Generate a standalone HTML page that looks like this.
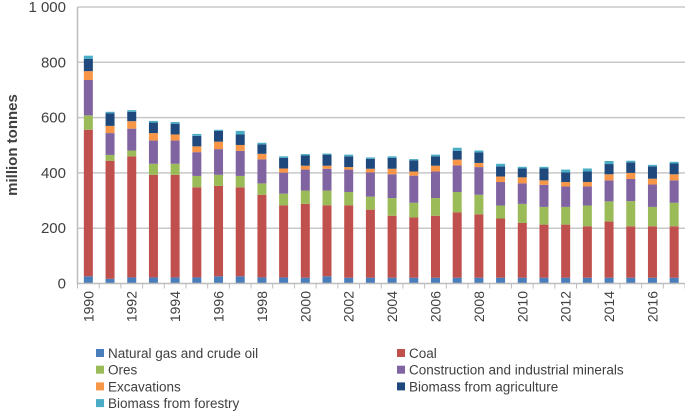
<!DOCTYPE html>
<html><head><meta charset="utf-8"><style>
body{margin:0;background:#fff;}
svg{font-family:"Liberation Sans",sans-serif;}
</style></head><body>
<svg id="chart" width="685" height="412"></svg>
<script>
const years=[1990,1991,1992,1993,1994,1995,1996,1997,1998,1999,2000,2001,2002,2003,2004,2005,2006,2007,2008,2009,2010,2011,2012,2013,2014,2015,2016,2017];
const gas=[26,17,22,22,22,22,26,26,22,22,21,26,21,21,21,21,21,21,21,21,21,21,21,21,21,21,21,21];
const coal=[530,427,438,371,371,326,327,322,299,261,267,257,262,246,224,218,224,236,229,214,198,192,192,186,203,186,186,186];
const ores=[52,21,21,40,40,41,40,41,41,42,48,53,48,47,64,53,64,74,71,47,69,64,64,75,73,91,70,85];
const constr=[128,79,79,84,84,86,93,91,87,76,76,79,81,88,86,98,96,96,100,85,74,80,74,69,76,80,81,81];
const excav=[32,26,27,27,22,21,27,21,20,15,14,11,9,13,20,15,21,21,15,20,22,16,16,16,22,22,21,22];
const agric=[44,46,34,38,39,38,39,38,34,38,37,40,39,36,39,40,34,32,38,36,32,43,35,38,37,38,44,39];
const forest=[12,5,6,6,6,7,4,13,6,6,5,4,6,5,6,5,6,11,7,10,6,6,10,11,11,6,6,6];
const yTicks=[0,200,400,600,800,1000];
const yTickLabels=["0","200","400","600","800","1 000"];
const seriesNames=["Natural gas and crude oil","Coal","Ores","Construction and industrial minerals","Excavations","Biomass from agriculture","Biomass from forestry"];
const seriesData=[gas,coal,ores,constr,excav,agric,forest];
const colors=["#4a7ebb","#c0504d","#9bbb59","#8064a2","#f79646","#1f497d","#4bacc6"];
const NS="http://www.w3.org/2000/svg";
const svg=document.getElementById('chart');
const L=77.5,R=685,T=7,B=283.5;
const band=(R-L)/years.length;
function y(v){return B-(v/1000)*(B-T);}
function xc(i){return L+band*(i+0.5);}
function mk(tag,attrs,parent){const e=document.createElementNS(NS,tag);for(const k in attrs)e.setAttribute(k,attrs[k]);(parent||svg).appendChild(e);return e;}
yTicks.forEach((t,i)=>{
  if(i>0){const g=mk('line',{x1:L,x2:R,y1:y(t),y2:y(t),stroke:'#c8c8c8','stroke-width':1.5});
  
  }
  const tx=mk('text',{x:66,y:y(t)+5,'text-anchor':'end','font-size':15,fill:'#404040'});
  tx.textContent=yTickLabels[i];
  
  
});
years.forEach((yr,i)=>{
  let acc=0;
  seriesData.forEach((s,k)=>{
    const v=s[i];
    const r=mk('rect',{x:xc(i)-4.5,y:y(acc+v),width:9,height:y(acc)-y(acc+v),fill:colors[k]});
    
    
    acc+=v;
  });
  if(i%2===0){
    const tx=mk('text',{transform:`translate(${xc(i)+5},${291}) rotate(-90)`,'text-anchor':'end','font-size':14,fill:'#404040'});
    tx.textContent=yr;
    
    
  }
});
for(let i=0;i<=years.length;i++){
  const tk=mk('line',{x1:L+band*i,x2:L+band*i,y1:B,y2:B+5,stroke:'#bdbdbd','stroke-width':1});
  
  
}
const ax=mk('line',{x1:L,x2:R,y1:B,y2:B,stroke:'#bdbdbd','stroke-width':1.5});


const ay=mk('line',{x1:L,x2:L,y1:T,y2:B,stroke:'#bdbdbd','stroke-width':1.5});


const yt=mk('text',{transform:'translate(17,145) rotate(-90)','text-anchor':'middle','font-size':15,'font-weight':'bold',fill:'#404040'});
yt.textContent='million tonnes';


seriesNames.forEach((n,k)=>{
  const col=k%2, row=Math.floor(k/2);
  const lx=col===0?96:397, ly=353+row*16.7;
  const g=mk('g',{});
  
  
  mk('rect',{x:lx,y:ly-4,width:8,height:8,fill:colors[k]},g);
  const t=mk('text',{x:lx+12,y:ly+5,'font-size':13.5,fill:'#404040'},g);
  t.textContent=n;
});
</script>
</body></html>
